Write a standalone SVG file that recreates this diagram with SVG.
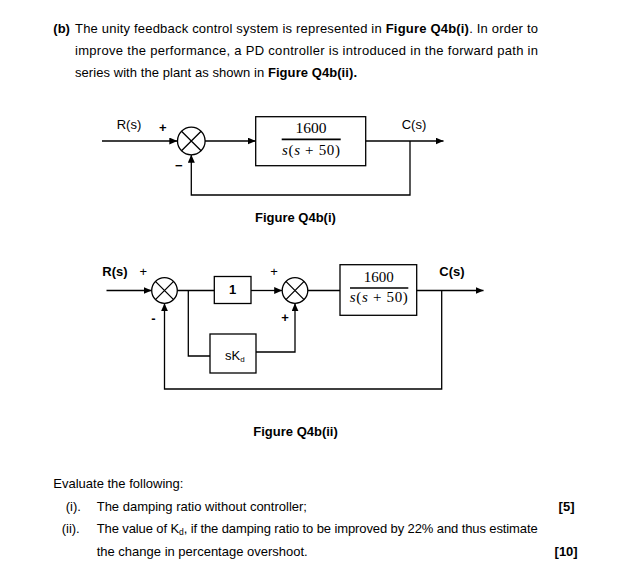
<svg xmlns="http://www.w3.org/2000/svg" width="637" height="566" viewBox="0 0 637 566">
<defs>
<style>
.t{font-family:"Liberation Sans",Arial,sans-serif;font-size:13px;fill:#000}
.b{font-weight:bold}
.m{font-family:"Liberation Serif","Times New Roman",serif;fill:#000}
.i{font-style:italic}
.ln{fill:none;stroke:#000;stroke-width:1.3}
.bx{fill:#fff;stroke:#000;stroke-width:1.3}
.bar{stroke:#000;stroke-width:1.7}
</style>
<marker id="ar" markerUnits="userSpaceOnUse" markerWidth="9" markerHeight="8" refX="8" refY="3.5" orient="auto">
<path d="M0,0 L8,3.5 L0,7 z" fill="#000"/>
</marker>
</defs>
<rect width="637" height="566" fill="#fff"/>

<!-- Header text -->
<text class="t b" x="53.3" y="32.5">(b)</text>
<text class="t" x="75" y="32.5" textLength="463" lengthAdjust="spacing">The unity feedback control system is represented in <tspan class="b">Figure Q4b(i)</tspan>. In order to</text>
<text class="t" x="75" y="54.8" textLength="463" lengthAdjust="spacing">improve the performance, a PD controller is introduced in the forward path in</text>
<text class="t" x="75" y="77" textLength="282" lengthAdjust="spacing">series with the plant as shown in <tspan class="b">Figure Q4b(ii).</tspan></text>

<!-- Figure 1 -->
<g id="fig1-connectors">
<path class="ln" d="M102,141 H177.3" marker-end="url(#ar)"/>
<path class="ln" d="M205,141 H255.7" marker-end="url(#ar)"/>
<path class="ln" d="M365.7,141 H443.5" marker-end="url(#ar)"/>
<path class="ln" d="M410,141 V195 H191.3 V154.8" marker-end="url(#ar)"/>
</g>
<g id="fig1-sum">
<circle class="bx" cx="191.3" cy="141" r="13.8"/>
<path class="ln" d="M181.5,131.2 L201.1,150.8 M201.1,131.2 L181.5,150.8"/>
</g>
<g id="fig1-plant">
<rect class="bx" x="255.7" y="116.7" width="110" height="49"/>
<text class="m" x="311" y="132.5" font-size="15.5" text-anchor="middle">1600</text>
<line class="bar" x1="281.7" y1="139.3" x2="340.7" y2="139.3"/>
<text class="m" x="311" y="155" font-size="15" text-anchor="middle" textLength="58" lengthAdjust="spacing"><tspan class="i">s</tspan>(<tspan class="i">s</tspan> + 50)</text>
</g>
<g id="fig1-labels">
<text class="t" x="116.7" y="129">R(s)</text>
<text class="t b" x="162.7" y="132" text-anchor="middle">+</text>
<text class="t b" x="178.8" y="169.5" text-anchor="middle">−</text>
<text class="t" x="401.7" y="129">C(s)</text>
</g>
<text class="t b" x="255" y="221.7" font-size="12.5">Figure Q4b(i)</text>

<!-- Figure 2 -->
<g id="fig2-connectors">
<path class="ln" d="M106.5,290.5 H151.7" marker-end="url(#ar)"/>
<path class="ln" d="M177.3,290.5 H214.3"/>
<path class="ln" d="M251,290.5 H282.2" marker-end="url(#ar)"/>
<path class="ln" d="M307.8,290.5 H340"/>
<path class="ln" d="M408,290.5 H483.5" marker-end="url(#ar)"/>
<path class="ln" d="M441.7,290.5 V389 H164.5 V303.3" marker-end="url(#ar)"/>
<path class="ln" d="M188.3,290.5 V356 H210"/>
<path class="ln" d="M256,352 H295 V303.3" marker-end="url(#ar)"/>
</g>
<g id="fig2-sum1">
<circle class="bx" cx="164.5" cy="290.5" r="12.8"/>
<path class="ln" d="M155.4,281.4 L173.6,299.6 M173.6,281.4 L155.4,299.6"/>
</g>
<g id="fig2-gain">
<rect class="bx" x="214.3" y="276.5" width="36.7" height="27"/>
<text class="t b" x="232.5" y="294" font-size="11" text-anchor="middle">1</text>
</g>
<g id="fig2-sum2">
<circle class="bx" cx="295" cy="290.5" r="12.8"/>
<path class="ln" d="M285.9,281.4 L304.1,299.6 M304.1,281.4 L285.9,299.6"/>
</g>
<g id="fig2-deriv">
<rect class="bx" x="210" y="334" width="46" height="39"/>
<text class="t" x="225" y="359.5" font-size="11.5">sK<tspan font-size="8" dy="2">d</tspan></text>
</g>
<g id="fig2-plant">
<rect class="bx" x="340" y="264.7" width="76.7" height="50.6"/>
<text class="m" x="378.8" y="282.3" font-size="15" text-anchor="middle">1600</text>
<line class="bar" x1="350" y1="288" x2="408.3" y2="288"/>
<text class="m" x="378.8" y="302" font-size="15" text-anchor="middle" textLength="58" lengthAdjust="spacing"><tspan class="i">s</tspan>(<tspan class="i">s</tspan> + 50)</text>
</g>
<g id="fig2-labels">
<text class="t b" x="102.3" y="276.3">R(s)</text>
<text class="t" x="143.3" y="275.7" font-size="11" text-anchor="middle">+</text>
<text class="t b" x="153.3" y="322.5" font-size="11" text-anchor="middle">-</text>
<text class="t" x="274" y="275.7" font-size="11" text-anchor="middle">+</text>
<text class="t b" x="285" y="321.7" font-size="11" text-anchor="middle">+</text>
<text class="t b" x="439.3" y="276.3">C(s)</text>
</g>
<text class="t b" x="253.3" y="435.7" font-size="12.5">Figure Q4b(ii)</text>

<!-- Bottom text -->
<text class="t" x="53.3" y="487.5">Evaluate the following:</text>
<text class="t" x="65.7" y="511">(i).</text>
<text class="t" x="96.7" y="511">The damping ratio without controller;</text>
<text class="t b" x="574.5" y="511" text-anchor="end">[5]</text>
<text class="t" x="61.7" y="532.5">(ii).</text>
<text class="t" x="96.7" y="532.5" textLength="441" lengthAdjust="spacing">The value of K<tspan font-size="8.5" dy="2">d</tspan><tspan dy="-2">, if the damping ratio to be improved by 22% and thus estimate</tspan></text>
<text class="t" x="96.7" y="556">the change in percentage overshoot.</text>
<text class="t b" x="577.7" y="556" text-anchor="end">[10]</text>
</svg>
